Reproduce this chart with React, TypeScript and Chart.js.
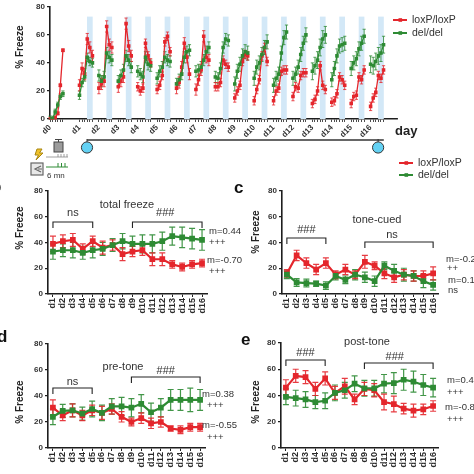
import React, { useEffect, useRef } from 'react';
import { Chart, registerables } from 'chart.js';

Chart.register(...registerables);

const FONT = '"Liberation Sans", Arial, Helvetica, sans-serif';
const RED = '#e4262c';
const GREEN = '#2e8b34';
const BAND = '#d3e8f7';
const INK = '#1e1e1e';
const W = 474;

// ---------- panel a: every session, d0 to d16 ----------
const SESSION_DAYS = ['d0', 'd1', 'd2', 'd3', 'd4', 'd5', 'd6', 'd7', 'd8', 'd9', 'd10', 'd11', 'd12', 'd13', 'd14', 'd15', 'd16'];
const SESSION_RED: number[][] = [
  [0, 0, 1, 4, 24, 49],
  [24, 36, 32, 57, 51, 45],
  [22, 25, 27, 66, 53, 51],
  [23, 27, 30, 68, 52, 45],
  [23, 20, 22, 54, 45, 40],
  [21, 24, 31, 55, 59, 48],
  [22, 26, 37, 54, 44, 32],
  [21, 28, 35, 59, 44, 42],
  [23, 23, 26, 42, 39, 37],
  [15, 20, 24, 41, 46, 45],
  [13, 21, 28, 45, 51, 41],
  [13, 20, 22, 34, 35, 35],
  [16, 23, 22, 31, 33, 33],
  [11, 14, 20, 38, 24, 21],
  [12, 13, 18, 30, 28, 24],
  [11, 16, 17, 30, 28, 35],
  [9, 15, 19, 31, 29, 35],
];
const SESSION_GREEN: number[][] = [
  [0, 0, 5, 10, 16, 18],
  [17, 26, 30, 44, 41, 40],
  [31, 27, 30, 47, 44, 42],
  [27, 31, 35, 45, 42, 37],
  [34, 32, 30, 44, 39, 38],
  [29, 34, 37, 44, 42, 41],
  [25, 28, 32, 44, 48, 49],
  [34, 35, 37, 42, 48, 51],
  [30, 29, 36, 51, 57, 56],
  [25, 34, 39, 45, 48, 47],
  [29, 37, 40, 46, 51, 55],
  [24, 29, 32, 47, 58, 62],
  [29, 32, 37, 46, 54, 60],
  [34, 38, 42, 51, 57, 60],
  [28, 36, 45, 52, 53, 54],
  [36, 40, 43, 50, 54, 59],
  [39, 38, 41, 45, 47, 53],
];
const SESSION_RED_ERR = [1, 4, 4, 4, 3, 3, 4, 4, 3, 3, 3, 3, 3, 3, 3, 3, 3];
const SESSION_GREEN_ERR = [2, 3, 4, 4, 4, 4, 4, 4, 4, 5, 5, 5, 5, 6, 5, 5, 6];
const TONE_SESSIONS = [3, 4, 5];
const Y_TICKS = [0, 20, 40, 60, 80];

// ---------- panels b–e: daily means ----------
const DAYS = ['d1', 'd2', 'd3', 'd4', 'd5', 'd6', 'd7', 'd8', 'd9', 'd10', 'd11', 'd12', 'd13', 'd14', 'd15', 'd16'];

const TOTAL_RED = [39, 41, 42, 35, 41, 36, 38, 31, 33, 34, 27, 27, 23, 21, 23, 24];
const TOTAL_RED_ERR = [6, 5, 5, 4, 4, 5, 4, 5, 4, 4, 5, 5, 3, 3, 3, 3];
const TOTAL_GREEN = [33, 34, 34, 32, 34, 35, 38, 41, 39, 39, 39, 41, 45, 44, 43, 42];
const TOTAL_GREEN_ERR = [6, 5, 6, 5, 6, 5, 5, 6, 6, 7, 7, 7, 7, 8, 8, 8];

const CUED_RED = [16, 30, 24, 19, 24, 15, 19, 15, 25, 22, 16, 13, 15, 14, 14, 16];
const CUED_RED_ERR = [3, 4, 4, 4, 4, 3, 4, 3, 5, 3, 4, 4, 4, 4, 4, 5];
const CUED_GREEN = [15, 9, 8.5, 8, 6.5, 14, 11, 15, 13, 10, 22, 18, 15, 14, 10, 7];
const CUED_GREEN_ERR = [3, 3, 3, 2, 3, 3, 3, 4, 4, 4, 3, 5, 5, 4, 5, 4];

const PRE_RED = [31, 25, 29, 25, 29, 27, 30, 24, 20, 23, 19, 20, 15, 14, 16, 16];
const PRE_RED_ERR = [6, 4, 5, 4, 4, 5, 4, 4, 3, 4, 4, 4, 2, 3, 3, 3];
const PRE_GREEN = [24, 28.5, 29, 26.5, 30, 27, 32, 32, 31, 34, 27.5, 31, 37, 37, 37, 37];
const PRE_GREEN_ERR = [6, 5, 5, 5, 6, 6, 6, 7, 7, 7, 7, 7, 8, 8, 9, 8];

const POST_RED = [46, 55, 54, 45, 53, 42, 47, 37, 45, 44, 35, 33.5, 30, 28.5, 29.5, 32];
const POST_RED_ERR = [6, 5, 5, 5, 5, 5, 6, 4, 5, 5, 6, 6, 4, 5, 4, 4];
const POST_GREEN = [39, 38, 37, 35, 36, 42, 44, 49, 45.5, 45.5, 49, 49.5, 52, 50.5, 48, 46];
const POST_GREEN_ERR = [6, 6, 6, 5, 6, 6, 6, 6, 6, 6, 7, 8, 8, 8, 8, 7];

// ---------- helpers ----------
const DAY_STEP = 7.5;
const FIRST_DAY = 11.4;
const sessionX = (d: number, s: number) => (d === 0 ? s : FIRST_DAY + (d - 1) * DAY_STEP + s);

function buildSessionSeries(values: number[][], errs: number[]) {
  const data: { x: number; y: number | null }[] = [];
  const e: number[] = [];
  values.forEach((day, d) => {
    day.forEach((v, s) => {
      data.push({ x: sessionX(d, s), y: v });
      e.push(errs[d]);
    });
    data.push({ x: sessionX(d, day.length - 0.5), y: null });
    e.push(0);
  });
  return { data, e };
}

function txt(ctx: CanvasRenderingContext2D, s: string, x: number, y: number, font: string, align: CanvasTextAlign = 'left', color = '#2a2a2a') {
  ctx.save();
  ctx.font = font;
  ctx.fillStyle = color;
  ctx.textAlign = align;
  ctx.textBaseline = 'middle';
  ctx.fillText(s, x, y);
  ctx.restore();
}
function vtxt(ctx: CanvasRenderingContext2D, s: string, x: number, y: number, font: string) {
  ctx.save();
  ctx.translate(x, y);
  ctx.rotate(-Math.PI / 2);
  txt(ctx, s, 0, 0, font, 'center', '#222');
  ctx.restore();
}
function legendEntry(ctx: CanvasRenderingContext2D, x: number, y: number, color: string, label: string) {
  ctx.save();
  ctx.strokeStyle = color;
  ctx.fillStyle = color;
  ctx.lineWidth = 2;
  ctx.beginPath();
  ctx.moveTo(x, y);
  ctx.lineTo(x + 14, y);
  ctx.stroke();
  ctx.fillRect(x + 5.5, y - 1.8, 3.6, 3.6);
  ctx.restore();
  txt(ctx, label, x + 19, y, '10.5px ' + FONT, 'left', '#333');
}

const errorBars = {
  id: 'errorBars',
  beforeDatasetsDraw(chart: any) {
    const ctx: CanvasRenderingContext2D = chart.ctx;
    const ys = chart.scales.y;
    chart.data.datasets.forEach((ds: any, i: number) => {
      if (!ds.errs) return;
      const meta = chart.getDatasetMeta(i);
      ctx.save();
      ctx.strokeStyle = ds.borderColor;
      ctx.globalAlpha = 0.9;
      ctx.lineWidth = ds.errWidth ?? 1;
      meta.data.forEach((pt: any, j: number) => {
        const raw = ds.data[j];
        const v = typeof raw === 'number' ? raw : raw?.y;
        const err = ds.errs[j];
        if (v == null || !err || pt.skip) return;
        const x = pt.x;
        const yTop = ys.getPixelForValue(v + err);
        const yBot = ys.getPixelForValue(Math.max(0, v - err));
        const c = ds.capHalf ?? 2;
        ctx.beginPath();
        ctx.moveTo(x, yBot);
        ctx.lineTo(x, yTop);
        ctx.moveTo(x - c, yTop);
        ctx.lineTo(x + c, yTop);
        ctx.moveTo(x - c, yBot);
        ctx.lineTo(x + c, yBot);
        ctx.stroke();
      });
      ctx.restore();
    });
  },
};

const toneBands = {
  id: 'toneBands',
  beforeDatasetsDraw(chart: any) {
    const ctx: CanvasRenderingContext2D = chart.ctx;
    const xs = chart.scales.x;
    const ys = chart.scales.y;
    ctx.save();
    ctx.fillStyle = BAND;
    for (let d = 1; d < SESSION_DAYS.length; d++) {
      const x0 = xs.getPixelForValue(sessionX(d, TONE_SESSIONS[0] - 0.1));
      const x1 = xs.getPixelForValue(sessionX(d, TONE_SESSIONS[TONE_SESSIONS.length - 1] + 0.1));
      const y0 = ys.getPixelForValue(73);
      const y1 = ys.getPixelForValue(0);
      ctx.fillRect(x0, y0, x1 - x0, y1 - y0);
    }
    ctx.restore();
  },
};

const decor = (draw: (chart: any, ctx: CanvasRenderingContext2D) => void) => ({
  id: 'decor',
  afterDraw(chart: any) {
    draw(chart, chart.ctx);
  },
});

function yAxis(width: number) {
  return {
    min: 0,
    max: 80,
    afterBuildTicks: (s: any) => {
      s.ticks = Y_TICKS.map((v) => ({ value: v }));
    },
    ticks: { font: { family: FONT, size: 8, weight: 'bold' as const }, color: '#333', padding: 2 },
    grid: { drawOnChartArea: false, drawTicks: true, tickLength: 3, color: INK, lineWidth: 1.2 },
    border: { color: INK, width: 1.6 },
    afterFit: (s: any) => {
      s.width = width;
    },
  };
}

// ---------- top chart ----------
function topConfig(): any {
  const red = buildSessionSeries(SESSION_RED, SESSION_RED_ERR);
  const green = buildSessionSeries(SESSION_GREEN, SESSION_GREEN_ERR);
  const tickVals: number[] = [];
  const tickLabel = new Map<number, string>();
  SESSION_RED.forEach((day, d) => {
    day.forEach((_, s) => tickVals.push(sessionX(d, s)));
    tickLabel.set(sessionX(d, 0), SESSION_DAYS[d]);
  });
  const H = 190;
  return {
    type: 'line',
    data: {
      datasets: [
        { data: green.data, errs: green.e, borderColor: GREEN, backgroundColor: GREEN, borderWidth: 1.3, pointRadius: 1.6, pointStyle: 'rect', spanGaps: false, capHalf: 1.6, errWidth: 0.9 },
        { data: red.data, errs: red.e, borderColor: RED, backgroundColor: RED, borderWidth: 1.3, pointRadius: 1.6, pointStyle: 'rect', spanGaps: false, capHalf: 1.6, errWidth: 0.9 },
      ],
    },
    options: {
      animation: false,
      responsive: false,
      events: [],
      layout: { padding: { left: 0, top: 6, right: W - 397, bottom: 0 } },
      plugins: { legend: { display: false }, tooltip: { enabled: false } },
      scales: {
        x: {
          type: 'linear',
          min: 0,
          max: 134.1,
          afterBuildTicks: (s: any) => {
            s.ticks = tickVals.map((v) => ({ value: v }));
          },
          ticks: {
            autoSkip: false,
            maxRotation: 45,
            minRotation: 45,
            padding: 1,
            font: { family: FONT, size: 8, weight: 'bold' },
            color: '#333',
            callback: (v: number) => tickLabel.get(v) ?? '',
          },
          grid: { drawOnChartArea: false, drawTicks: true, tickLength: 3, color: INK, lineWidth: 0.8 },
          border: { color: INK, width: 1.6 },
          afterFit: (s: any) => {
            s.height = H - 119;
          },
        },
        y: yAxis(50),
      },
    },
    plugins: [
      toneBands,
      errorBars,
      decor((chart, ctx) => {
        const xs = chart.scales.x;
        vtxt(ctx, '% Freeze', 20, 47, 'bold 10px ' + FONT);
        txt(ctx, 'day', 395, 131, 'bold 13px ' + FONT, 'left', '#222');
        legendEntry(ctx, 393, 20, RED, 'loxP/loxP');
        legendEntry(ctx, 393, 33, GREEN, 'del/del');
        legendEntry(ctx, 399, 163, RED, 'loxP/loxP');
        legendEntry(ctx, 399, 175, GREEN, 'del/del');
        // timeline
        const last = SESSION_DAYS.length - 1;
        const xa = xs.getPixelForValue(sessionX(1, TONE_SESSIONS[0] - 0.1));
        const xb = xs.getPixelForValue(sessionX(last, TONE_SESSIONS[0] - 0.1));
        const xe = xs.getPixelForValue(sessionX(last, TONE_SESSIONS[TONE_SESSIONS.length - 1] + 0.1));
        ctx.save();
        ctx.strokeStyle = '#666';
        ctx.lineWidth = 2;
        ctx.beginPath();
        ctx.moveTo(xa, 140);
        ctx.lineTo(xe, 140);
        ctx.stroke();
        [xa, xb].forEach((cx) => {
          ctx.strokeStyle = '#333';
          ctx.lineWidth = 1;
          ctx.beginPath();
          ctx.moveTo(cx, 139);
          ctx.lineTo(cx, 142);
          ctx.stroke();
          ctx.beginPath();
          ctx.arc(cx, 147.5, 5.6, 0, Math.PI * 2);
          ctx.fillStyle = '#63d1f3';
          ctx.fill();
          ctx.stroke();
        });
        // protocol icons
        ctx.fillStyle = '#9c9c9c';
        ctx.strokeStyle = '#444';
        ctx.lineWidth = 1;
        ctx.fillRect(54, 142, 9, 10);
        ctx.strokeRect(54, 142, 9, 10);
        ctx.beginPath();
        ctx.moveTo(55, 139.5);
        ctx.lineTo(62, 139.5);
        ctx.moveTo(58.5, 139.5);
        ctx.lineTo(58.5, 142);
        ctx.stroke();
        ctx.fillStyle = '#f0c22a';
        ctx.strokeStyle = '#a88612';
        ctx.beginPath();
        ctx.moveTo(37, 149);
        ctx.lineTo(42, 149);
        ctx.lineTo(39.5, 153);
        ctx.lineTo(43, 153);
        ctx.lineTo(36, 160);
        ctx.lineTo(38.5, 155);
        ctx.lineTo(35, 155);
        ctx.closePath();
        ctx.fill();
        ctx.stroke();
        ctx.fillStyle = '#e8e8e8';
        ctx.strokeStyle = '#666';
        ctx.lineWidth = 1.2;
        ctx.fillRect(31, 163, 12, 12);
        ctx.strokeRect(31, 163, 12, 12);
        ctx.beginPath();
        ctx.moveTo(41, 166);
        ctx.lineTo(35, 169);
        ctx.lineTo(41, 172);
        ctx.moveTo(38, 169);
        ctx.lineTo(42, 169);
        ctx.stroke();
        ctx.strokeStyle = '#888';
        ctx.lineWidth = 0.8;
        ctx.beginPath();
        ctx.moveTo(46, 157);
        ctx.lineTo(68, 157);
        [58, 61, 64, 67].forEach((tx) => {
          ctx.moveTo(tx, 157);
          ctx.lineTo(tx, 154);
        });
        ctx.stroke();
        ctx.strokeStyle = GREEN;
        ctx.lineWidth = 1;
        ctx.beginPath();
        ctx.moveTo(46, 167);
        ctx.lineTo(68, 167);
        [58, 61.5, 65].forEach((tx) => {
          ctx.moveTo(tx, 167);
          ctx.lineTo(tx, 163);
        });
        ctx.stroke();
        ctx.restore();
        txt(ctx, '6 mn', 47, 176, '8px ' + FONT, 'left', '#333');
      }),
    ],
  };
}

// ---------- bottom panels ----------
type Bracket = { from: number; to: number; y: number; label: string; ly: number; dx?: number };
type Note = { text: string; x: number; y: number };
type PanelSpec = {
  height: number;
  left: number;
  right: number;
  top: number;
  bottom: number;
  red: number[];
  redErr: number[];
  green: number[];
  greenErr: number[];
  letter?: { text: string; x: number; y: number };
  yTitle: { x: number; y: number };
  heading: { text: string; x: number; y: number };
  brackets: Bracket[];
  notes: Note[];
};

function panelConfig(p: PanelSpec): any {
  return {
    type: 'line',
    data: {
      labels: DAYS,
      datasets: [
        { data: p.green, errs: p.greenErr, borderColor: GREEN, backgroundColor: GREEN, borderWidth: 2.2, pointRadius: 2.5, pointStyle: 'rect', capHalf: 3, errWidth: 1.2 },
        { data: p.red, errs: p.redErr, borderColor: RED, backgroundColor: RED, borderWidth: 2.2, pointRadius: 2.5, pointStyle: 'rect', capHalf: 3, errWidth: 1.2 },
      ],
    },
    options: {
      animation: false,
      responsive: false,
      events: [],
      layout: { padding: { left: 0, top: p.top, right: W - p.right, bottom: 0 } },
      plugins: { legend: { display: false }, tooltip: { enabled: false } },
      scales: {
        x: {
          type: 'category',
          offset: true,
          ticks: { autoSkip: false, maxRotation: 90, minRotation: 90, padding: 1, font: { family: FONT, size: 9, weight: 'bold' }, color: '#2a2a2a' },
          grid: { drawOnChartArea: false, drawTicks: true, tickLength: 3, color: INK, lineWidth: 1 },
          border: { color: INK, width: 1.6 },
          afterFit: (s: any) => {
            s.height = p.height - p.bottom;
          },
        },
        y: yAxis(p.left),
      },
    },
    plugins: [
      errorBars,
      decor((chart, ctx) => {
        const xs = chart.scales.x;
        if (p.letter) txt(ctx, p.letter.text, p.letter.x, p.letter.y, 'bold 17px ' + FONT, 'left', '#111');
        vtxt(ctx, '% Freeze', p.yTitle.x, p.yTitle.y, 'bold 10px ' + FONT);
        txt(ctx, p.heading.text, p.heading.x, p.heading.y, '11px ' + FONT, 'center', '#333');
        p.brackets.forEach((b) => {
          const a = xs.getPixelForValue(b.from);
          const e = xs.getPixelForValue(b.to);
          ctx.save();
          ctx.strokeStyle = '#222';
          ctx.lineWidth = 1.1;
          ctx.beginPath();
          ctx.moveTo(a, b.y + 6);
          ctx.lineTo(a, b.y);
          ctx.lineTo(e, b.y);
          ctx.lineTo(e, b.y + 6);
          ctx.stroke();
          ctx.restore();
          txt(ctx, b.label, (a + e) / 2 + (b.dx ?? 0), b.ly, '11px ' + FONT, 'center', '#333');
        });
        p.notes.forEach((n) => txt(ctx, n.text, n.x, n.y, '9.5px ' + FONT, 'left', '#333'));
      }),
    ],
  };
}

const PANELS: { top: number; spec: PanelSpec }[] = [
  {
    top: 180,
    spec: {
      height: 150, left: 48, right: 207, top: 11, bottom: 114,
      red: TOTAL_RED, redErr: TOTAL_RED_ERR, green: TOTAL_GREEN, greenErr: TOTAL_GREEN_ERR,
      letter: { text: 'b', x: -9, y: 7 },
      yTitle: { x: 20, y: 48 },
      heading: { text: 'total freeze', x: 127, y: 25 },
      brackets: [
        { from: 0, to: 4, y: 42, label: 'ns', ly: 33 },
        { from: 8, to: 15, y: 42, label: '###', ly: 33, dx: -2 },
      ],
      notes: [
        { text: 'm=0.44', x: 209, y: 51 },
        { text: '+++', x: 209, y: 62 },
        { text: 'm=-0.70', x: 207, y: 80 },
        { text: '+++', x: 209, y: 91 },
      ],
    },
  },
  {
    top: 180,
    spec: {
      height: 150, left: 282, right: 438, top: 11, bottom: 114,
      red: CUED_RED, redErr: CUED_RED_ERR, green: CUED_GREEN, greenErr: CUED_GREEN_ERR,
      letter: { text: 'c', x: 234, y: 8 },
      yTitle: { x: 256, y: 52 },
      heading: { text: 'tone-cued', x: 377, y: 40 },
      brackets: [
        { from: 0, to: 4, y: 58, label: '###', ly: 50 },
        { from: 8, to: 15, y: 62, label: 'ns', ly: 55, dx: -7 },
      ],
      notes: [
        { text: 'm=-0.29', x: 446, y: 79 },
        { text: '++', x: 447, y: 88 },
        { text: 'm=0.15', x: 448, y: 100 },
        { text: 'ns', x: 448, y: 110 },
      ],
    },
  },
  {
    top: 330,
    spec: {
      height: 144, left: 48, right: 205, top: 14, bottom: 118,
      red: PRE_RED, redErr: PRE_RED_ERR, green: PRE_GREEN, greenErr: PRE_GREEN_ERR,
      letter: { text: 'd', x: -3, y: 7 },
      yTitle: { x: 20, y: 72 },
      heading: { text: 'pre-tone', x: 123, y: 37 },
      brackets: [
        { from: 0, to: 4, y: 58, label: 'ns', ly: 52 },
        { from: 8, to: 15, y: 47, label: '###', ly: 41 },
      ],
      notes: [
        { text: 'm=0.38', x: 202, y: 64 },
        { text: '+++', x: 207, y: 75 },
        { text: 'm=-0.55', x: 202, y: 95 },
        { text: '+++', x: 207, y: 107 },
      ],
    },
  },
  {
    top: 330,
    spec: {
      height: 144, left: 281, right: 438, top: 13, bottom: 118,
      red: POST_RED, redErr: POST_RED_ERR, green: POST_GREEN, greenErr: POST_GREEN_ERR,
      letter: { text: 'e', x: 241, y: 10 },
      yTitle: { x: 256, y: 72 },
      heading: { text: 'post-tone', x: 367, y: 12 },
      brackets: [
        { from: 0, to: 4, y: 30, label: '###', ly: 23 },
        { from: 8, to: 15, y: 33, label: '###', ly: 27, dx: -4 },
      ],
      notes: [
        { text: 'm=0.49', x: 447, y: 50 },
        { text: '+++', x: 447, y: 62 },
        { text: 'm=-0.84', x: 445, y: 77 },
        { text: '+++', x: 447, y: 89 },
      ],
    },
  },
];

function ChartCanvas({ top, height, make }: { top: number; height: number; make: () => any }) {
  const ref = useRef<HTMLCanvasElement>(null);
  useEffect(() => {
    const chart = new Chart(ref.current as HTMLCanvasElement, make());
    return () => chart.destroy();
  }, []);
  return (
    <canvas
      ref={ref}
      width={W}
      height={height}
      style={{ position: 'absolute', left: 0, top, width: W, height, display: 'block' }}
    />
  );
}

export default function App() {
  return (
    <div
      style={{
        position: 'fixed',
        left: 0,
        top: 0,
        width: W,
        height: 474,
        overflow: 'hidden',
        background: '#ffffff',
      }}
    >
      <ChartCanvas top={0} height={190} make={topConfig} />
      {PANELS.map((p, i) => (
        <ChartCanvas key={i} top={p.top} height={p.spec.height} make={() => panelConfig(p.spec)} />
      ))}
    </div>
  );
}
